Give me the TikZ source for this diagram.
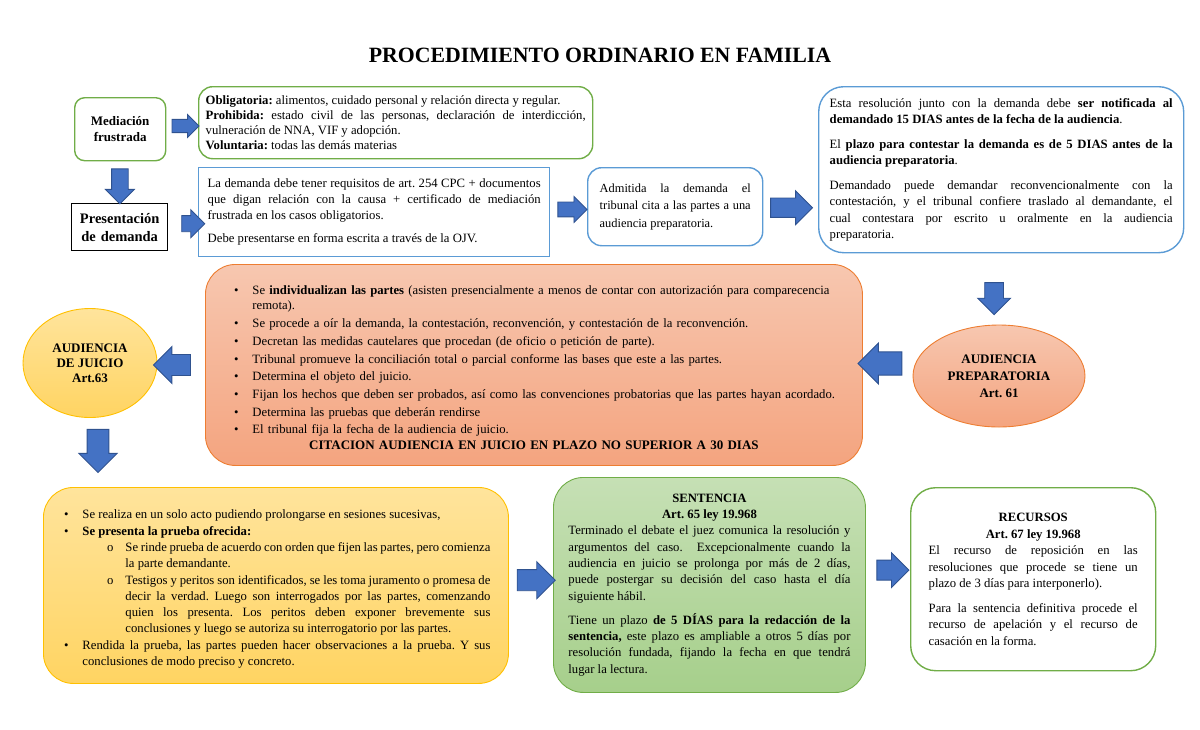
\documentclass[tikz,border=0pt]{standalone}
\usepackage{fontspec}
\setmainfont{Liberation Serif}
\usepackage{enumitem}
\setlist{itemsep=0pt, parsep=0pt, topsep=0pt, partopsep=0pt}
\usetikzlibrary{shapes.geometric,shapes.arrows,calc}
\frenchspacing
\hyphenpenalty=10000
\exhyphenpenalty=10000
\emergencystretch=20pt

\definecolor{arrowfill}{HTML}{4472C4}
\definecolor{arrowdraw}{HTML}{2F528F}
\definecolor{lgreen}{HTML}{70AD47}
\definecolor{lblue}{HTML}{5B9BD5}
\definecolor{lorange}{HTML}{ED7D31}
\definecolor{lgold}{HTML}{FFC000}
\definecolor{orangetop}{HTML}{F7C7B0}
\definecolor{orangebot}{HTML}{F4A47F}
\definecolor{goldtop}{HTML}{FFE49C}
\definecolor{goldbot}{HTML}{FFD462}
\definecolor{greentop}{HTML}{C6E0B5}
\definecolor{greenbot}{HTML}{A6CF8B}

\begin{document}
\begin{tikzpicture}[x=1pt, y=-1pt, thick,
    txt/.style={font=\fontsize{12.7}{16}\selectfont},
    box/.style={draw, txt, anchor=north west, align=justify, inner ysep=2pt},
    greenbox/.style={box, draw=lgreen, line width=1.4pt, rounded corners=#1},
    bluebox/.style={box, draw=lblue, line width=1.4pt, rounded corners=#1},
    orangebox/.style={box, draw=lorange, line width=0.9pt, top color=orangetop, bottom color=orangebot, rounded corners=30pt},
    goldbox/.style={box, draw=lgold, line width=0.9pt, top color=goldtop, bottom color=goldbot, rounded corners=30pt},
    sentbox/.style={box, draw=lgreen, line width=0.9pt, top color=greentop, bottom color=greenbot, rounded corners=30pt},
    oval/.style={ellipse, inner sep=0pt, align=center, font=\fontsize{13}{16}\selectfont\bfseries},
    barrow/.style 2 args={single arrow, draw=arrowdraw, fill=arrowfill, line width=0.9pt,
      inner xsep=0pt, inner ysep=0.28*#2, single arrow head extend=0.22*#2,
      minimum height=#1, minimum width=#2}]
  \useasboundingbox (0,0) rectangle (1200,729);

  % Nodes
  \node (title) at (600,55) [font=\fontsize{21.8}{26}\selectfont\bfseries] {PROCEDIMIENTO ORDINARIO EN FAMILIA};

  \node (med) at (74,97) [greenbox=10pt, align=center, text width=83pt, inner xsep=4pt, minimum height=63pt,
    font=\fontsize{13}{16}\selectfont\bfseries] {Mediación\\ frustrada};
  \node (obl) at (198,86) [greenbox=14pt, text width=380pt, inner xsep=7pt, minimum height=72pt,
    font=\fontsize{12.7}{15.3}\selectfont]
    {\textbf{Obligatoria:} alimentos, cuidado personal y relación directa y regular.\\
     \textbf{Prohibida:} estado civil de las personas, declaración de interdicción, vulneración de NNA, VIF y adopción.\\
     \textbf{Voluntaria:} todas las demás materias};
  \node (pres) at (71,203) [box, draw=black, line width=1.4pt, align=center, text width=88pt, inner xsep=4pt,
    minimum height=47pt, font=\fontsize{14.5}{18}\selectfont\bfseries] {Presentación\\ de demanda};
  \node (req) at (198,167) [box, draw=lblue, line width=1.4pt, text width=333pt, inner xsep=9pt, minimum height=89pt]
    {La demanda debe tener requisitos de art. 254 CPC + documentos que digan relación con la causa + certificado de mediación frustrada en los casos obligatorios.\par\vspace{7pt}
     Debe presentarse en forma escrita a través de la OJV.};
  \node (adm) at (587,167) [bluebox=14pt, text width=151pt, inner xsep=12pt, minimum height=78pt,
    font=\fontsize{12.4}{17.5}\selectfont]
    {Admitida la demanda el\linebreak tribunal cita a las partes a una\linebreak audiencia preparatoria.};
  \node (res) at (818,86) [bluebox=25pt, text width=343pt, inner xsep=11pt, minimum height=166pt,
    font=\fontsize{12.7}{16.5}\selectfont]
    {Esta resolución junto con la demanda debe \textbf{ser notificada al demandado 15 DIAS antes de la fecha de la audiencia}.\par\vspace{8pt}
     El \textbf{plazo para contestar la demanda es de 5 DIAS antes de la audiencia preparatoria}.\par\vspace{8pt}
     Demandado puede demandar reconvencionalmente con la contestación, y el tribunal confiere traslado al demandante, el\linebreak cual contestara por escrito u oralmente en la audiencia\linebreak preparatoria.};
  \node (prep) at (999,376) [oval, draw=lorange, line width=0.9pt, top color=orangetop, bottom color=orangebot,
    minimum width=172pt, minimum height=102pt, font=\fontsize{13}{17}\selectfont\bfseries]
    {AUDIENCIA\\ PREPARATORIA\\ Art. 61};
  \node (mid) at (205,264) [orangebox, align=left, text width=617pt, inner xsep=20pt, minimum height=201pt,
    font=\fontsize{12.7}{15}\selectfont]
    {\begin{itemize}[leftmargin=27pt, labelsep=14pt, itemsep=2.7pt]
       \item Se \textbf{individualizan las partes} (asisten presencialmente a menos de contar con autorización para comparecencia remota).
       \item Se procede a oír la demanda, la contestación, reconvención, y contestación de la reconvención.
       \item Decretan las medidas cautelares que procedan (de oficio o petición de parte).
       \item Tribunal promueve la conciliación total o parcial conforme las bases que este a las partes.
       \item Determina el objeto del juicio.
       \item Fijan los hechos que deben ser probados, así como las convenciones probatorias que las partes hayan acordado.
       \item Determina las pruebas que deberán rendirse
       \item El tribunal fija la fecha de la audiencia de juicio.
     \end{itemize}
     {\centering\bfseries\fontsize{13}{16}\selectfont CITACION AUDIENCIA EN JUICIO EN PLAZO NO SUPERIOR A 30 DIAS\par}};
  \node (juicio) at (90,363) [oval, draw=lgold, line width=0.9pt, top color=goldtop, bottom color=goldbot,
    minimum width=134pt, minimum height=109pt, font=\fontsize{13}{15}\selectfont\bfseries]
    {AUDIENCIA\\ DE JUICIO\\ Art.63};
  \node (prueba) at (43,487) [goldbox, text width=429pt, inner xsep=18pt, minimum height=196pt,
    font=\fontsize{12.7}{16.3}\selectfont]
    {\begin{itemize}[leftmargin=21pt, labelsep=14pt]
       \item Se realiza en un solo acto pudiendo prolongarse en sesiones sucesivas,
       \item \textbf{Se presenta la prueba ofrecida:}
         \begin{itemize}[label=o, leftmargin=43pt, labelsep=12pt]
           \item Se rinde prueba de acuerdo con orden que fijen las partes, pero comienza la parte demandante.
           \item Testigos y peritos son identificados, se les toma juramento o promesa de\linebreak decir la verdad. Luego son interrogados por las partes, comenzando\linebreak quien los presenta. Los peritos deben exponer brevemente sus\linebreak conclusiones y luego se autoriza su interrogatorio por las partes.
         \end{itemize}
       \item Rendida la prueba, las partes pueden hacer observaciones a la prueba. Y sus conclusiones de modo preciso y concreto.
     \end{itemize}};
  \node (sent) at (553,477) [sentbox, text width=282pt, inner xsep=15pt, minimum height=215pt,
    font=\fontsize{12.7}{16.3}\selectfont]
    {{\centering\bfseries SENTENCIA\\ Art. 65 ley 19.968\par}
     Terminado el debate el juez comunica la resolución y\linebreak argumentos del caso.\ \ Excepcionalmente cuando la\linebreak audiencia en juicio se prolonga por más de 2 días,\linebreak puede postergar su decisión del caso hasta el día\linebreak siguiente hábil.\par\vspace{8pt}
     Tiene un plazo \textbf{de 5 DÍAS para la redacción de la}\linebreak \textbf{sentencia,} este plazo es ampliable a otros 5 días por\linebreak resolución fundada, fijando la fecha en que tendrá\linebreak lugar la lectura.};
  \node (rec) at (910,487) [greenbox=25pt, text width=209pt, inner xsep=18pt, minimum height=183pt,
    font=\fontsize{12.7}{16.5}\selectfont]
    {{\centering\bfseries RECURSOS\\ Art. 67 ley 19.968\par}
     El recurso de reposición en las resoluciones que procede se tiene un plazo de 3 días para interponerlo).\par\vspace{8pt}
     Para la sentencia definitiva procede el recurso de apelación y el recurso de casación en la forma.\par\vspace{28pt}};

  % Edges
  \node (a1) [barrow={27}{22}] at ($(med.east)!.5!(obl.west)$) {};
  \node (a2) [barrow={35}{28}, rotate=-90] at ($(med.south)!.5!(pres.north)$) {};
  \node (a3) [barrow={23}{27}] at ($(pres.east)!.5!(req.west) + (6,4)$) {};
  \node (a4) [barrow={29}{25}] at ($(req.east)!.5!(adm.west)$) {};
  \node (a5) [barrow={42}{33}] at ($(adm.east)!.5!(res.west |- adm.east) + (-4,1)$) {};
  \node (a6) [barrow={32}{32}, rotate=-90] at ($(res.south)!.5!(prep.north) + (-6,5)$) {};
  \node (a7) [barrow={44}{40}, rotate=180] at ($(prep.west)!.5!(mid.east) + (-2,-7)$) {};
  \node (a8) [barrow={37}{36}, rotate=180] at ($(mid.west)!.5!(juicio.east) + (-4,1)$) {};
  \node (a9) [barrow={43}{37}, rotate=-90] at ($(juicio.south)!.5!(juicio.south |- prueba.north) + (8,-7)$) {};
  \node (a10) [barrow={38}{36}] at ($(prueba.east)!.5!(sent.west) + (0,-5)$) {};
  \node (a11) [barrow={32}{34}] at ($(sent.east)!.5!(rec.west) + (0,-12)$) {};
\end{tikzpicture}
\end{document}
